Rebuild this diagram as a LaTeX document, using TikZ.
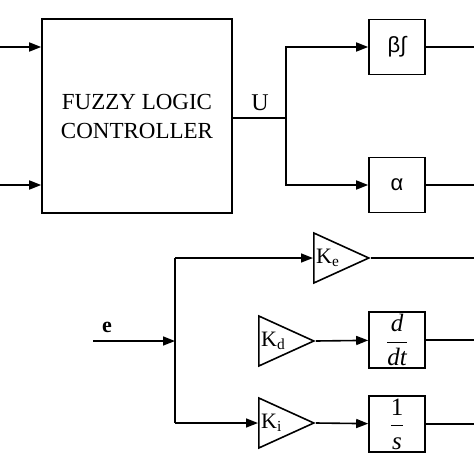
\documentclass[tikz,border=0pt]{standalone}
\usepackage{fontspec}
\usepackage{amsmath}
\setmainfont{Liberation Serif}
\newfontfamily\greekfont{Liberation Sans}
\usetikzlibrary{arrows.meta,shapes.geometric}

\tikzset{
  wire/.style={line width=1.6pt},
  sig/.style={wire, -{Triangle[length=12pt,width=9pt]}},
  blk/.style={draw, wire, minimum width=56pt, minimum height=55pt, inner sep=0pt,
    font=\greekfont\fontsize{22}{26}\selectfont},
  gain/.style={draw, wire, isosceles triangle, isosceles triangle stretches,
    minimum width=50pt, minimum height=55pt, inner sep=0pt},
  gainlab/.style={anchor=west, inner sep=3pt, font=\fontsize{22}{26}\selectfont},
}

\begin{document}
\begin{tikzpicture}[x=1pt,y=-1pt]
    \useasboundingbox (0,0) rectangle (474,474);

    % fuzzy controller and its two outputs
    \node[draw, wire, minimum width=190pt, minimum height=194pt, align=center,
      font=\fontsize{23}{29}\selectfont] (flc) at (137,116) {FUZZY LOGIC\\CONTROLLER};
    \coordinate (in1) at (0,47);
    \coordinate (in2) at (0,185);
    \draw[sig] (in1) -- (in1 -| flc.west);
    \draw[sig] (in2) -- (in2 -| flc.west);

    \coordinate (uj) at (286,118);
    \draw[wire] (flc.east |- uj) -- (uj);
    \node[font=\fontsize{24}{28}\selectfont] (ulab) at (260,103) {U};

    \node[blk] (beta) at (397,47) {β∫};
    \node[blk] (alpha) at (397,185) {α};
    \draw[sig] (uj) |- (beta);
    \draw[sig] (uj) |- (alpha);
    \coordinate (bout) at (474,47);
    \coordinate (aout) at (474,185);
    \draw[wire] (beta) -- (bout);
    \draw[wire] (alpha) -- (aout);

    % PID branches
    \coordinate (ein) at (93,341);
    \coordinate (ej) at (175,341);
    \coordinate (jt) at (175,258);
    \coordinate (jb) at (175,423);
    \draw[sig] (ein) -- (ej);
    \node[font=\bfseries\fontsize{22}{26}\selectfont] (elab) at (107,327) {e};
    \draw[wire] (jt) -- (jb);

    \node[gain, anchor=lower side] (ke) at (313,258) {};
    \node[gain, anchor=lower side] (kd) at (258,341) {};
    \node[gain, anchor=lower side] (ki) at (258,423) {};
    \node[gainlab] (kelab) at (ke.lower side) {K\textsubscript{e}};
    \node[gainlab] (kdlab) at (kd.lower side) {K\textsubscript{d}};
    \node[gainlab] (kilab) at (ki.lower side) {K\textsubscript{i}};
    \draw[sig] (jt) -- (ke);
    \draw[sig] (jb) -- (ki);

    \node[blk, minimum height=56pt, font=\fontsize{25}{28}\selectfont] (ddt) at (397,340)
      {$\dfrac{\textit{d}}{\textit{dt}}$};
    \node[blk, minimum height=56pt, font=\fontsize{25}{28}\selectfont] (integ) at (397,424)
      {$\dfrac{\textup{1}}{\textit{s}}$};
    \draw[sig] (kd.apex) -- (ddt);
    \draw[sig] (ki.apex) -- (integ);

    \coordinate (keout) at (474,258);
    \coordinate (dout) at (474,340);
    \coordinate (iout) at (474,424);
    \draw[wire] (ke.apex) -- (keout);
    \draw[wire] (ddt) -- (dout);
    \draw[wire] (integ) -- (iout);
\end{tikzpicture}
\end{document}
